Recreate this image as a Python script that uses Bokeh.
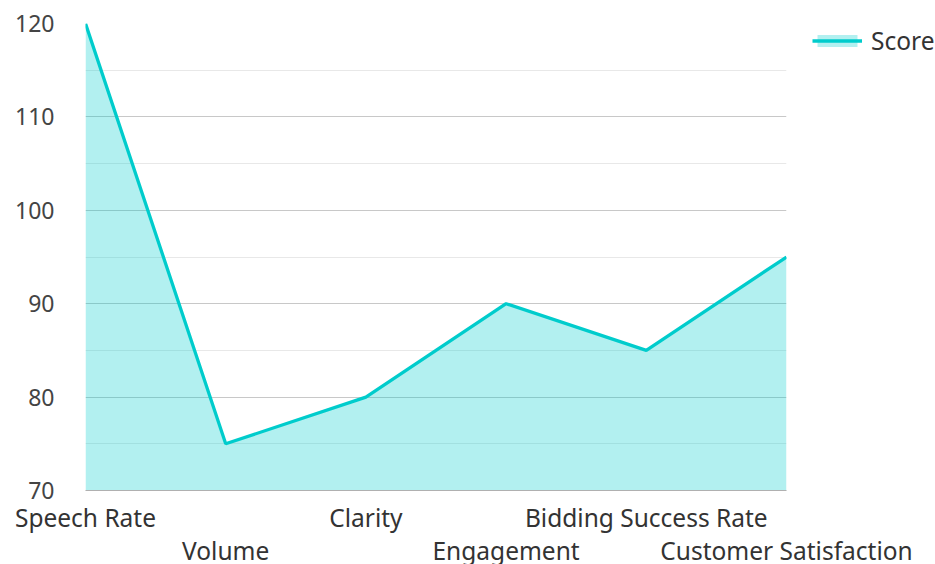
from bokeh.plotting import figure
from bokeh.models import LinearAxis, FixedTicker, Legend, LegendItem, Range1d
from bokeh.embed import file_html
from bokeh.resources import INLINE

categories = ["Speech Rate", "Volume", "Clarity", "Engagement",
              "Bidding Success Rate", "Customer Satisfaction"]
scores = [120, 75, 80, 90, 85, 95]
y_ticks = [70, 80, 90, 100, 110, 120]
y_minor = [75, 85, 95, 105, 115]

FONT = "Noto Sans"
LINE = "#00cccc"

xs = list(range(len(categories)))

p = figure(width=919, height=564, frame_width=701, frame_height=467,
           output_backend="svg", toolbar_location=None,
           x_axis_type=None,
           x_range=Range1d(0, len(categories) - 1),
           y_range=Range1d(y_ticks[0], y_ticks[-1]),
           min_border_left=85, min_border_top=23, min_border_right=10,
           min_border_bottom=0)
p.outline_line_color = None
p.background_fill_color = "white"

area = p.varea(x=xs, y1=[y_ticks[0]] * len(xs), y2=scores,
               fill_color=LINE, fill_alpha=0.3)
line = p.line(x=xs, y=scores, line_color=LINE, line_width=3.3)

# y axis
ya = p.yaxis[0]
ya.ticker = FixedTicker(ticks=y_ticks, minor_ticks=y_minor)
ya.axis_line_color = None
ya.major_tick_line_color = None
ya.minor_tick_line_color = None
ya.major_label_text_font = FONT
ya.major_label_text_font_size = "23px"
ya.major_label_text_color = "#444444"
ya.major_label_standoff = 25

p.xgrid.visible = False
p.ygrid.grid_line_color = "#c8c8c8"
p.ygrid.minor_grid_line_color = "#e8e8e8"
p.ygrid.ticker = FixedTicker(ticks=y_ticks, minor_ticks=y_minor)

# staggered x labels: two axes below
even = xs[0::2]
odd = xs[1::2]
for idx, ticks, standoff in ((0, even, 10), (1, odd, -3)):
    ax = LinearAxis(ticker=FixedTicker(ticks=ticks),
                    major_label_overrides={i: categories[i] for i in ticks})
    ax.axis_line_color = "#b0b0b0" if idx == 0 else None
    ax.axis_line_width = 1
    ax.major_tick_line_color = None
    ax.minor_tick_line_color = None
    ax.major_tick_out = 0
    ax.major_label_text_font = FONT
    ax.major_label_text_font_size = "24.5px"
    ax.major_label_text_color = "#333333"
    ax.major_label_standoff = standoff
    p.add_layout(ax, "below")

legend = Legend(items=[LegendItem(label="Score", renderers=[area, line])],
                location=(26, 433))
legend.border_line_color = None
legend.background_fill_alpha = 0
legend.label_text_font = FONT
legend.label_text_font_size = "24.5px"
legend.label_text_color = "#333333"
legend.glyph_width = 50
legend.glyph_height = 15
legend.label_standoff = 9
legend.padding = 0
legend.margin = 0
p.add_layout(legend, "right")

open("out.html", "w").write(file_html(p, INLINE))
